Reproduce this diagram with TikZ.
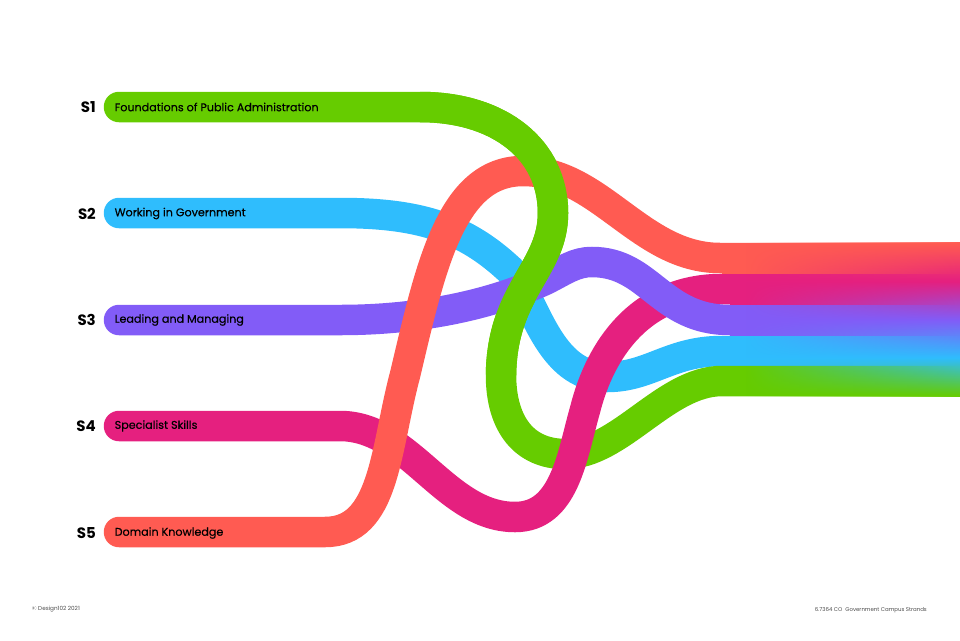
\documentclass[tikz,border=0pt]{standalone}
\usepackage{fontspec}
\setmainfont{Poppins}
\usetikzlibrary{fadings}
\definecolor{cgreen}{HTML}{66CC00}
\definecolor{cblue}{HTML}{2FBDFD}
\definecolor{cpurple}{HTML}{825CF7}
\definecolor{cmagenta}{HTML}{E5207F}
\definecolor{cred}{HTML}{FF5B52}
\pgfdeclareverticalshading{bandshade}{100bp}{
 color(0bp)=(cgreen); color(25bp)=(cgreen); color(37.5bp)=(cblue); color(50bp)=(cpurple); color(62.5bp)=(cmagenta); color(75bp)=(cred); color(100bp)=(cred)}
\tikzfading[name=fadeband,left color=transparent!100,right color=transparent!0]
\tikzset{
 ribbon/.style={line width=30.5pt,line cap=round,draw=#1},
 strand/.style={anchor=west,font=\fontsize{11.15}{13}\selectfont\addfontfeature{FakeBold=0.35},text=black,inner sep=0pt},
 code/.style={anchor=east,font=\fontsize{15}{17}\selectfont\bfseries,text=black,inner sep=0pt},
 foot/.style={font=\fontsize{5.7}{7}\selectfont,text=black!70,inner sep=0pt}
}
\begin{document}
\begin{tikzpicture}[x=1pt,y=-1pt]
\useasboundingbox (0,0) rectangle (960,640);
\clip (0,0) rectangle (960,640);
% lowest ribbon
\draw[ribbon=cblue] (119,213) -- (340,213) .. controls (420,213) and (465,228) .. (510,270)
  .. controls (535,300) and (548,377) .. (607,377) .. controls (650,377) and (670,351) .. (722,351) -- (990,351);
% whole green ribbon
\draw[ribbon=cgreen] (119,107) -- (420,107) .. controls (500,107) and (553,150) .. (553,213)
  .. controls (553,270) and (502,290) .. (501,375) .. controls (501,425) and (525,454) .. (565,454)
  .. controls (620,454) and (665,381) .. (722,381) -- (990,381);
\draw[ribbon=cmagenta] (119,426) -- (340,426) .. controls (410,426) and (445,517) .. (515,517)
  .. controls (565,517) and (572,455) .. (585,410) .. controls (600,350) and (640,289) .. (722,289) -- (990,289);
\draw[ribbon=cpurple] (119,320) -- (340,320) .. controls (420,320) and (490,305) .. (545,280)
  .. controls (565,270) and (575,262) .. (592,262) .. controls (650,262) and (660,320) .. (730,320) -- (990,320);
\draw[ribbon=cred] (119,532) -- (325,532) .. controls (385,532) and (385,450) .. (405,375)
  .. controls (430,270) and (450,171) .. (523,171) .. controls (600,171) and (640,258) .. (720,258) -- (990,258);
% upper part of green passes over red, purple and blue
\draw[ribbon=cgreen,line cap=butt] (420,107) .. controls (500,107) and (553,150) .. (553,213)
  .. controls (553,270) and (502,290) .. (501,375);
% close the hairline seams between the merged bands
\fill[cred] (722,273) rectangle (990,274);
\fill[cmagenta] (730,304) rectangle (990,305);
\fill[cpurple] (730,335) rectangle (990,336);
% right-hand merge
\shade[shading=bandshade,path fading=fadeband] (745,243) rectangle (960,396);
% labels
\node[strand] (t1) at (114.5,107) {Foundations of Public Administration};
\node[strand] (t2) at (114.5,213.5) {Working in Government};
\node[strand] (t3) at (114.5,320) {Leading and Managing};
\node[strand] (t4) at (114.5,426) {Specialist Skills};
\node[strand] (t5) at (114.5,533) {Domain Knowledge};
\node[code] (s1) at (96,107) {S1};
\node[code] (s2) at (96,213.5) {S2};
\node[code] (s3) at (96,320) {S3};
\node[code] (s4) at (96,426) {S4};
\node[code] (s5) at (96,533) {S5};
\node[foot,anchor=west] (f1) at (32,609.5) {© Design102 2021};
\node[foot,anchor=east,font=\fontsize{5.45}{7}\selectfont] (f2) at (927,610) {6.7364 CO\ \ Government Campus Strands};
\end{tikzpicture}
\end{document}
